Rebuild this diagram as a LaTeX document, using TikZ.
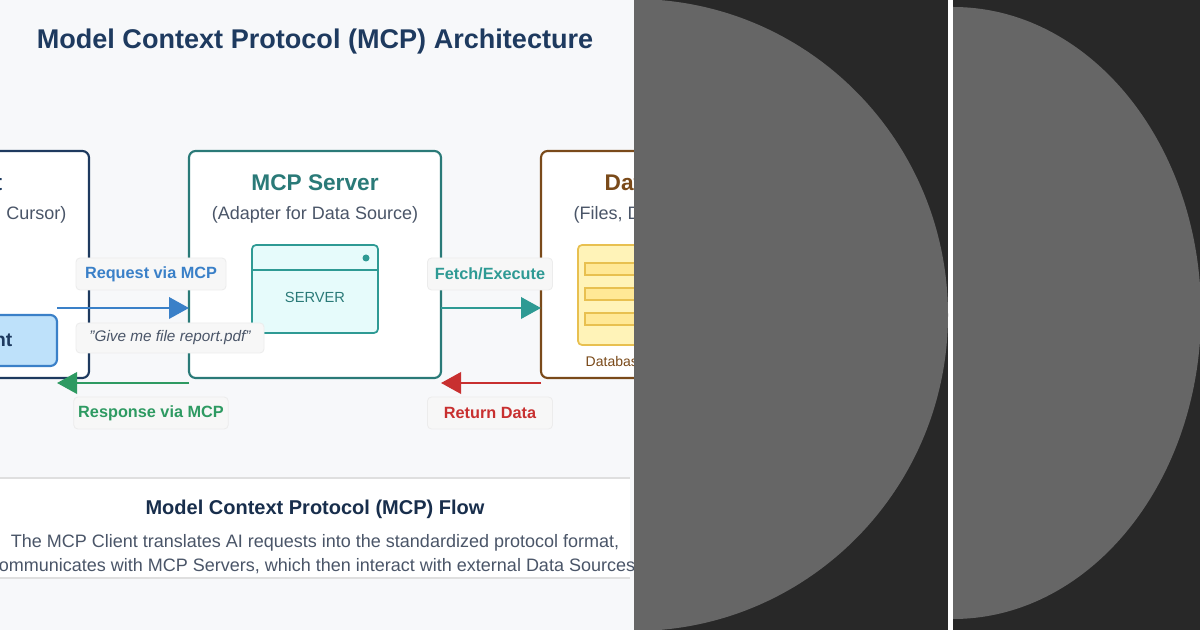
\documentclass[tikz,border=0pt]{standalone}
\usepackage{fontspec}
\setmainfont{Liberation Sans}
\usetikzlibrary{arrows.meta}
\definecolor{navy}{HTML}{1E3A5F}
\definecolor{teal2}{HTML}{2A7A78}
\definecolor{brown2}{HTML}{7A4A1A}
\definecolor{blue2}{HTML}{3A80C8}
\definecolor{green2}{HTML}{2E9A62}
\definecolor{red2}{HTML}{C83030}
\definecolor{arrteal}{HTML}{2E9A94}
\definecolor{txtgray}{HTML}{4A5568}
\begin{document}
\begin{tikzpicture}[x=0.75pt,y=-0.75pt,
  box/.style={rounded corners=5pt,line width=1.6pt,fill=white},
  lbl/.style={rounded corners=3pt,fill=gray!6,draw=gray!15,line width=0.6pt},
  arr/.style={line width=2pt,-{Triangle[length=15pt,width=16pt]}},
  lt/.style={font=\fontsize{12.2}{14}\selectfont\bfseries},
  sub/.style={font=\fontsize{13.5}{16}\selectfont,text=txtgray}]
\useasboundingbox (0,0) rectangle (1200,630);
\begin{scope}
\clip (0,0) rectangle (634,630);
\fill[fill={rgb,255:red,247;green,248;blue,250}] (0,0) rectangle (634,630);
\node[font=\fontsize{20.3}{24}\selectfont\bfseries,text=navy] (title) at (315,42) {Model Context Protocol (MCP) Architecture};
% client box
\draw[box,draw=navy] (-160,151) rectangle (89,378);
\node[anchor=east,font=\fontsize{17}{20}\selectfont\bfseries,text=navy] (ct) at (7,183) {AI Host};
\node[anchor=east,sub] (cs) at (71,215) {(Claude, ChatGPT, Cursor)};
\draw[rounded corners=5pt,fill={rgb,255:red,190;green,225;blue,250},draw=blue2,line width=1.6pt] (-130,315) rectangle (57,366);
\node[anchor=east,font=\fontsize{14.5}{17}\selectfont\bfseries,text=navy] (client) at (17,340) {MCP Client};
\coordinate (cl) at (57,308);
\coordinate (cl2) at (57,383);
% server
\draw[box,draw=teal2] (189,151) rectangle (441,378);
\node[font=\fontsize{17}{20}\selectfont\bfseries,text=teal2] (st) at (315,183) {MCP Server};
\node[sub] (ss) at (315,215) {(Adapter for Data Source)};
\draw[rounded corners=3pt,fill={rgb,255:red,230;green,251;blue,251},draw=arrteal,line width=1.3pt] (252,245) rectangle (378,333);
\draw[draw=arrteal,line width=1.3pt] (252,270) -- (378,270);
\fill[arrteal] (366,258) circle (3.5);
\node[font=\fontsize{11}{13}\selectfont,text=teal2] (sv) at (315,297) {SERVER};
% data
\draw[box,draw=brown2] (541,151) rectangle (800,378);
\node[anchor=west,font=\fontsize{17}{20}\selectfont\bfseries,text=brown2] (dt) at (600,183) {Data Source};
\node[anchor=west,sub] (ds) at (569,215) {(Files, DBs, APIs)};
\draw[rounded corners=3pt,fill={rgb,255:red,255;green,243;blue,184},draw={rgb,255:red,232;green,192;blue,80},line width=1.3pt] (578,245) rectangle (700,345);
\foreach \yy in {263,288,313}
  \draw[fill={rgb,255:red,255;green,232;blue,150},draw={rgb,255:red,232;green,192;blue,80},line width=1pt] (585,\yy) rectangle (690,\yy+12);
\node[anchor=west,font=\fontsize{10.5}{12}\selectfont,text=brown2] (db) at (581,361) {Database};
% connectors
\coordinate (sl) at (189,308); \coordinate (sl2) at (189,383);
\coordinate (sr) at (441,308); \coordinate (sr2) at (441,383);
\coordinate (dl) at (541,308); \coordinate (dl2) at (541,383);
\draw[arr,blue2] (cl) -- (sl);
\draw[arr,green2] (sl2) -- (cl2);
\draw[arr,arrteal] (sr) -- (dl);
\draw[arr,red2] (dl2) -- (sr2);
\node[lbl,lt,text=blue2,minimum width=150*0.75pt,minimum height=32*0.75pt] (l1) at (151,274) {Request via MCP};
\node[lbl,font=\fontsize{11.5}{13}\selectfont\itshape,text=txtgray,minimum width=188*0.75pt,minimum height=30*0.75pt] (l2) at (170,338) {"Give me file report.pdf"};
\node[lbl,lt,text=green2,minimum width=150*0.75pt,minimum height=32*0.75pt] (l3) at (151,413) {Response via MCP};
\node[lbl,lt,text=arrteal,minimum width=125*0.75pt,minimum height=32*0.75pt] (l4) at (490,274) {Fetch/Execute};
\node[lbl,lt,text=red2,minimum width=125*0.75pt,minimum height=32*0.75pt] (l5) at (490,413) {Return Data};
% bottom
\fill[white] (-10,478) rectangle (630,578);
\draw[gray!25,line width=1.5pt] (-10,478) -- (630,478);
\draw[gray!25,line width=1.5pt] (-10,578) -- (630,578);
\node[font=\fontsize{15}{18}\selectfont\bfseries,text=navy!80!black] (bt) at (315,509) {Model Context Protocol (MCP) Flow};
\node[sub,align=center,font=\fontsize{13.5}{18.5}\selectfont] (bb) at (315,554) {The MCP Client translates AI requests into the standardized protocol format,\\ communicates with MCP Servers, which then interact with external Data Sources.};
\end{scope}
% right panels
\fill[fill={rgb,255:red,40;green,40;blue,40}] (634,0) rectangle (948,630);
\fill[white] (948,0) rectangle (953,630);
\fill[fill={rgb,255:red,40;green,40;blue,40}] (953,0) rectangle (1200,630);
\begin{scope}
\clip (634,0) rectangle (948,630);
\fill[fill={rgb,255:red,102;green,102;blue,102}] (634,315) ellipse [x radius=314, y radius=316];
\end{scope}
\begin{scope}
\clip (953,0) rectangle (1200,630);
\fill[fill={rgb,255:red,102;green,102;blue,102}] (953,313) ellipse [x radius=248, y radius=306];
\end{scope}
\end{tikzpicture}
\end{document}
